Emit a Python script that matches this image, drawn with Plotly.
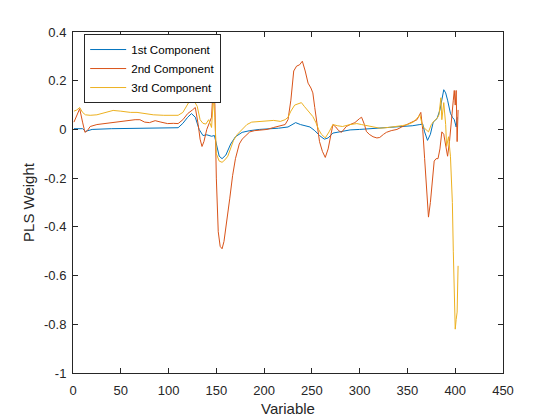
import plotly.graph_objects as go

# values
blue_x = [1, 5, 10, 13, 20, 40, 60, 80, 100, 110, 115, 120, 124, 128, 132, 136, 140, 145, 148,
          150, 153, 156, 160, 165, 170, 177, 185, 195, 205, 215, 225, 230, 233, 238, 243, 248,
          253, 258, 263, 267, 272, 279, 290, 300, 320, 340, 355, 363, 366, 368, 371, 374, 377,
          381, 384, 388, 390, 392, 395, 397, 399, 401, 402]
blue_y = [0.003, 0.002, 0.003, -0.008, 0.0, 0.003, 0.004, 0.004, 0.005, 0.007, 0.025, 0.05,
          0.065, 0.05, 0.0, -0.025, -0.022, -0.028, -0.025, -0.06, -0.11, -0.12, -0.105, -0.06,
          -0.03, -0.012, -0.005, 0.0, 0.002, 0.005, 0.01, 0.02, 0.028, 0.02, 0.015, 0.01,
          -0.005, -0.025, -0.04, -0.035, -0.015, -0.01, -0.002, 0.0, 0.005, 0.01, 0.015, 0.02,
          0.022, -0.01, -0.045, -0.02, 0.03, 0.045, 0.08, 0.163, 0.15, 0.12, 0.066, 0.05, 0.04,
          0.01, 0.05]

orange_x = [1, 4, 7, 10, 12.5, 15, 18, 25, 35, 45, 55, 65, 70, 75, 80, 86, 92, 99, 105, 110,
            115, 120, 125, 128, 131, 133, 135, 137, 140, 143, 145, 147, 148.5, 150, 152, 154,
            156, 158, 161, 164, 167, 170, 174, 177, 181, 185, 190, 195, 203, 210, 217, 222,
            225, 228, 231, 234, 237, 240, 243, 246, 249, 251, 253, 256, 258, 261, 264, 267,
            269, 272, 275, 278, 281, 286, 290, 295, 300, 302, 305, 307, 310, 314, 318, 321,
            325, 328, 333, 339, 344, 349, 355, 360, 364, 366, 368, 370, 372, 374, 376, 378,
            380, 382, 384, 386, 388, 390, 392, 394, 396, 398, 399, 400, 401, 402, 403]
orange_y = [0.03, 0.06, 0.085, 0.03, -0.012, -0.005, 0.012, 0.02, 0.025, 0.033, 0.036, 0.04,
            0.04, 0.03, 0.028, 0.036, 0.03, 0.024, 0.025, 0.024, 0.04, 0.065, 0.08, 0.09, 0.02,
            -0.04, -0.07, -0.05, 0.0, 0.03, 0.05, 0.2, 0.1, -0.2, -0.42, -0.48, -0.49, -0.46,
            -0.38, -0.285, -0.19, -0.12, -0.06, -0.04, -0.025, -0.01, -0.005, -0.002, 0.0,
            0.008, 0.016, 0.02, 0.04, 0.12, 0.24, 0.26, 0.265, 0.28, 0.24, 0.19, 0.17, 0.15,
            0.09, 0.0, -0.05, -0.09, -0.115, -0.08, -0.04, 0.02, 0.01, -0.005, -0.012, 0.012,
            0.02, 0.028, 0.045, 0.05, 0.02, -0.008, -0.02, -0.03, -0.035, -0.033, -0.02,
            -0.012, -0.005, 0.0, 0.01, 0.02, 0.03, 0.04, 0.07, 0.0, -0.12, -0.25, -0.36, -0.3,
            -0.2, -0.13, -0.12, -0.12, -0.08, -0.01, -0.02, -0.07, -0.11, -0.05, 0.05, 0.12,
            0.16, 0.1, 0.16, -0.05, 0.08]

yellow_x = [1, 4, 7, 10, 13, 18, 25, 35, 42, 50, 60, 67, 75, 84, 95, 105, 110, 115, 118, 121,
            124, 127, 130, 133, 136, 139, 142, 145, 147, 148.5, 150, 153, 156, 159, 162, 165,
            168, 172, 177, 182, 187, 195, 203, 210, 217, 222, 225, 228, 232, 236, 239, 242,
            245, 248, 251, 254, 257, 260, 264, 268, 272, 277, 282, 290, 297, 302, 307, 314,
            321, 330, 339, 345, 350, 356, 360, 363, 366, 369, 372, 375, 378, 381, 383, 385,
            386, 388, 390, 391, 393, 395, 396, 397, 398, 399, 400, 401, 402, 403]
yellow_y = [0.075, 0.08, 0.09, 0.07, 0.06, 0.058, 0.06, 0.07, 0.078, 0.075, 0.07, 0.07, 0.065,
            0.06, 0.058, 0.057, 0.058, 0.07, 0.09, 0.11, 0.12, 0.115, 0.095, 0.04, 0.025,
            0.022, 0.04, 0.008, 0.13, 0.05, -0.1, -0.13, -0.135, -0.125, -0.11, -0.075, -0.045,
            -0.02, 0.0, 0.02, 0.03, 0.033, 0.037, 0.037, 0.033, 0.04, 0.05, 0.075, 0.1, 0.105,
            0.11, 0.095, 0.08, 0.065, 0.053, 0.03, 0.0, -0.02, -0.035, -0.01, 0.02, 0.015,
            0.012, 0.02, 0.024, 0.02, 0.016, 0.01, 0.005, 0.008, 0.012, 0.016, 0.02, 0.03,
            0.045, 0.06, 0.012, 0.0, -0.01, 0.02, 0.035, 0.045, 0.06, 0.13, 0.04, 0.11, 0.02,
            -0.07, -0.03, -0.11, -0.2, -0.3, -0.5, -0.76, -0.82, -0.78, -0.75, -0.56]

x_ticks = [0, 50, 100, 150, 200, 250, 300, 350, 400, 450]
y_ticks = [-1, -0.8, -0.6, -0.4, -0.2, 0, 0.2, 0.4]
y_ticktext = ["-1", "-0.8", "-0.6", "-0.4", "-0.2", "0", "0.2", "0.4"]

fig = go.Figure()
fig.add_trace(go.Scatter(x=blue_x, y=blue_y, mode='lines', name='1st Component',
                         line=dict(color='#0072BD', width=1)))
fig.add_trace(go.Scatter(x=orange_x, y=orange_y, mode='lines', name='2nd Component',
                         line=dict(color='#D95319', width=1)))
fig.add_trace(go.Scatter(x=yellow_x, y=yellow_y, mode='lines', name='3rd Component',
                         line=dict(color='#EDB120', width=1)))

axis_style = dict(showline=True, linecolor='#262626', linewidth=1, mirror='allticks',
                  ticks='inside', ticklen=5, tickcolor='#262626', showgrid=False,
                  zeroline=False, automargin=False, tickfont=dict(size=13, color='#262626'))

fig.update_layout(
    width=560, height=420,
    margin=dict(l=73, r=57, t=32, b=47),
    paper_bgcolor='white', plot_bgcolor='white',
    font=dict(family='Liberation Sans, Arial, sans-serif', color='#262626'),
    xaxis=dict(range=[0, 450], tickvals=x_ticks, ticklabelstandoff=5,
               title=dict(text='Variable', font=dict(size=15), standoff=6), **axis_style),
    yaxis=dict(range=[-1, 0.4], tickvals=y_ticks, ticktext=y_ticktext, ticklabelstandoff=3,
               title=dict(text='PLS Weight', font=dict(size=15), standoff=5), **axis_style),
    legend=dict(x=0.026, y=0.994, xanchor='left', yanchor='top', bgcolor='white',
                bordercolor='#262626', borderwidth=1, font=dict(size=11.6, color='black'),
                itemwidth=36),
    showlegend=True,
)

# the page has a default 8px body margin; drop it so the plot sits at the window corner
fig.write_html("out.html", config={'displayModeBar': False},
               post_script="document.body.style.margin = '0';")
